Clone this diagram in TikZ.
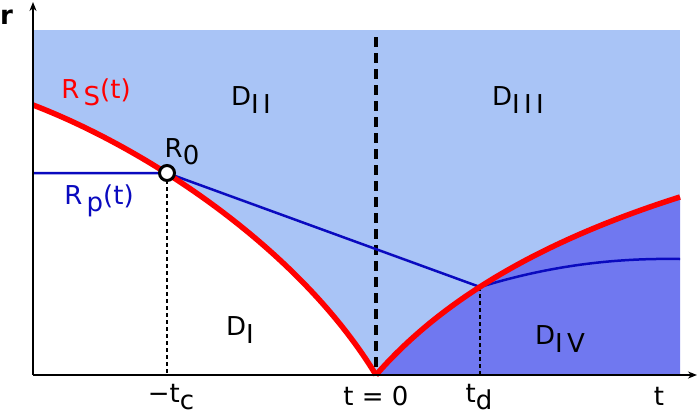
\documentclass[tikz,border=0pt]{standalone}
\usepackage{fontspec}
\setmainfont{DejaVu Sans}
\usetikzlibrary{arrows.meta}
\definecolor{lightfill}{HTML}{A9C4F6}
\definecolor{darkfill}{HTML}{7078F0}
\definecolor{rsred}{HTML}{FF0000}
\definecolor{rpblue}{HTML}{0A0ABF}
\newcommand\lsub[1]{\raisebox{-0.28em}{#1}}
\tikzset{
  lbl/.style={font=\fontsize{26}{30}\selectfont, inner sep=0pt},
  axisline/.style={line width=2.2pt, -{Stealth[length=9pt,width=7pt]}},
  rscurve/.style={rsred, line width=5.5pt},
  rpcurve/.style={rpblue, line width=2.5pt},
  dotline/.style={line width=2.2pt, dash pattern=on 4pt off 3pt},
  zeroline/.style={line width=4pt, dash pattern=on 10pt off 6pt},
}
\begin{document}
\begin{tikzpicture}[x=1pt,y=-1pt]
\useasboundingbox (0,0) rectangle (700,415);
% background regions
\fill[lightfill] (33,30) rectangle (680,375);
\fill[white] (33,375) -- (33,105) .. controls (150,150) and (300,250) .. (376,375) -- cycle;
\fill[darkfill] (376,375) .. controls (450,290) and (560,235) .. (680,197) -- (680,375) -- cycle;
% coordinates
\coordinate (O) at (33,375);
\coordinate (yend) at (33,2);
\coordinate (xend) at (697,375);
\coordinate (R0) at (167,173);
\coordinate (tcb) at (167,375);
\coordinate (Td) at (480,287);
\coordinate (tdb) at (480,375);
\coordinate (zt) at (376,37);
\coordinate (zb) at (376,375);
\coordinate (rpstart) at (33,173);
\coordinate (rpend) at (680,259);
\coordinate (rsl) at (33,105);
\coordinate (rsr) at (680,197);
% reference lines
\draw[dotline] (R0) -- (tcb);
\draw[dotline] (Td) -- (tdb);
\draw[zeroline] (zt) -- (zb);
% Rp curve
\draw[rpcurve] (rpstart) -- (R0) -- (Td) .. controls (555,264) and (620,258) .. (rpend);
% Rs curve
\draw[rscurve] (rsl) .. controls (150,150) and (300,250) .. (zb);
\draw[rscurve] (zb) .. controls (450,290) and (560,235) .. (rsr);
% axes
\draw[axisline] (O) -- (yend);
\draw[axisline] (O) -- (xend);
% R0 marker
\node[circle, draw=black, fill=white, line width=3pt, minimum size=15pt, inner sep=0pt] (R0mark) at (R0) {};
% labels
\node[lbl, font=\fontsize{26}{30}\selectfont\bfseries, anchor=west] (rlab) at (0,17) {r};
\node[lbl, text=rsred] (rslab) at (96,92) {R\,\lsub{S}(t)};
\node[lbl, text=rpblue] (rplab) at (99,201) {R\,\lsub{p}(t)};
\node[lbl] (r0lab) at (182,152) {R\lsub{0}};
\node[lbl] (d2) at (251,100) {D\lsub{I\,I}};
\node[lbl] (d3) at (518,100) {D\lsub{I\,I\,I}};
\node[lbl] (d1) at (240,330) {D\lsub{I}};
\node[lbl] (d4) at (560,339) {D\lsub{I\,V}};
\node[lbl] (tclab) at (171,397) {−t\lsub{c}};
\node[lbl] (t0lab) at (376,396) {t = 0};
\node[lbl] (tdlab) at (479,397) {t\lsub{d}};
\node[lbl] (tlab) at (659,396) {t};
\end{tikzpicture}
\end{document}
